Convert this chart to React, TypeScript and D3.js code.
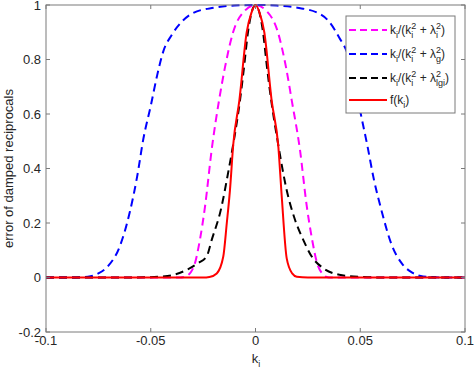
import React from "react";
import * as d3 from "d3";

const xTicks = [-0.1, -0.05, 0, 0.05, 0.1];
const yTicks = [-0.2, 0, 0.2, 0.4, 0.6, 0.8, 1];

// k_i/(k_i^2 + lambda_i^2)  (magenta)
const magK = [-0.1, -0.06, -0.036, -0.034, -0.032, -0.0308, -0.029, -0.0265, -0.0241, -0.0209, -0.0174, -0.0146, -0.0107, -0.005, 0, 0.005, 0.0107, 0.0146, 0.0173, 0.0212, 0.0245, 0.027, 0.0295, 0.0316, 0.034, 0.036, 0.06, 0.1];
const magV = [0, 0, 0, 0.002, 0.01, 0.02, 0.05, 0.14, 0.26, 0.47, 0.65, 0.77, 0.9, 0.98, 1, 0.98, 0.9, 0.77, 0.65, 0.47, 0.26, 0.14, 0.05, 0.017, 0.002, 0, 0, 0];

// k_i/(k_i^2 + lambda_g^2)  (blue)
const blueK = [-0.1, -0.09, -0.08, -0.075, -0.07, -0.065, -0.06, -0.0565, -0.0535, -0.05, -0.047, -0.044, -0.04, -0.035, -0.03, -0.02, -0.01, 0, 0.01, 0.02, 0.03, 0.035, 0.04, 0.044, 0.047, 0.05, 0.0535, 0.0565, 0.06, 0.065, 0.07, 0.075, 0.08, 0.09, 0.1];
const blueV = [0, 0, 0.003, 0.015, 0.045, 0.11, 0.24, 0.37, 0.51, 0.63, 0.74, 0.83, 0.89, 0.94, 0.97, 0.99, 0.998, 1, 0.998, 0.99, 0.97, 0.94, 0.88, 0.82, 0.73, 0.61, 0.48, 0.36, 0.25, 0.12, 0.05, 0.017, 0.004, 0, 0];

// k_i/(k_i^2 + lambda_lgi^2)  (black)
const blackK = [-0.1, -0.06, -0.05, -0.0456, -0.04, -0.0328, -0.0274, -0.0233, -0.0209, -0.0165, -0.0131, -0.0106, -0.0074, -0.0055, -0.0036, 0, 0.0036, 0.0055, 0.0075, 0.0108, 0.0149, 0.0185, 0.0228, 0.027, 0.0322, 0.04, 0.05, 0.06, 0.1];
const blackV = [0, 0, 0.001, 0.003, 0.008, 0.028, 0.053, 0.078, 0.138, 0.25, 0.383, 0.49, 0.65, 0.77, 0.9, 1, 0.9, 0.77, 0.65, 0.49, 0.32, 0.22, 0.138, 0.075, 0.035, 0.01, 0.002, 0, 0];

// f(k_i)  (red)
const redK = [-0.1, -0.03, -0.025, -0.022, -0.0185, -0.0154, -0.0137, -0.0122, -0.0106, -0.0077, -0.0042, -0.002, 0, 0.002, 0.0042, 0.0077, 0.0109, 0.0125, 0.0149, 0.0175, 0.0197, 0.025, 0.03, 0.1];
const redV = [0, 0, 0, 0.002, 0.015, 0.076, 0.2, 0.32, 0.49, 0.65, 0.9, 0.97, 1, 0.97, 0.9, 0.65, 0.48, 0.3, 0.07, 0.015, 0.003, 0, 0, 0];

const legendSubs = ["i", "g", "lgi"];

const W = 474;
const H = 379;
const L = 46, R = 465, T = 5, B = 332;
const font = "'Liberation Sans', Arial, Helvetica, sans-serif";
const axisCol = "#7a7a7a";
const textCol = "#262626";

export default function App() {
  const x = d3.scaleLinear().domain([-0.1, 0.1]).range([L, R]);
  const y = d3.scaleLinear().domain([-0.2, 1]).range([B, T]);
  const line = d3
    .line<[number, number]>()
    .x((d) => x(d[0]))
    .y((d) => y(d[1]))
    .curve(d3.curveMonotoneX);
  const mk = (ks: number[], vs: number[]) => line(ks.map((k, i) => [k, vs[i]] as [number, number])) || "";

  const series = [
    { d: mk(magK, magV), color: "#ff00ff", dash: "8,5" },
    { d: mk(blueK, blueV), color: "#0000ff", dash: "8,5" },
    { d: mk(blackK, blackV), color: "#000000", dash: "8,5" },
    { d: mk(redK, redV), color: "#ff0000", dash: undefined as string | undefined },
  ];

  const lx = 346, ly = 16, lw = 109, lh = 97;
  const rows = [30, 54, 78, 100];
  const fs = 12;
  const sub = 9;
  // approximate glyph widths at sub size (Liberation Sans)
  const wOf = (s: string) =>
    s.split("").reduce((a, c) => a + (c === "i" || c === "l" ? 0.222 : 0.556) * sub, 0);
  const w2 = 0.556 * sub;

  const subSup = (sb: string, key: string) => {
    const ws = wOf(sb);
    const extra = Math.max(0, ws - w2);
    const back = Math.max(0, w2 - ws);
    return [
      <tspan key={key + "a"} fontSize={sub} dy={3.5}>{sb}</tspan>,
      <tspan key={key + "b"} fontSize={sub} dx={-ws} dy={-8.5}>2</tspan>,
      { extra, back },
    ] as const;
  };

  const legendText = (i: number, yy: number) => {
    const tx = 390;
    const base = yy + 4;
    if (i === 3) {
      return (
        <text x={tx} y={base} fontSize={fs} fill={textCol} fontFamily={font}>
          f(k<tspan fontSize={sub} dy={3.5}>i</tspan>
          <tspan dy={-3.5}>)</tspan>
        </text>
      );
    }
    const a = subSup("i", "a");
    const b = subSup(legendSubs[i], "b");
    return (
      <text x={tx} y={base} fontSize={fs} fill={textCol} fontFamily={font} xmlSpace="preserve">
        k<tspan fontSize={sub} dy={3.5}>i</tspan>
        <tspan dy={-3.5}>/(k</tspan>
        {a[0]}
        {a[1]}
        <tspan dy={5} dx={a[2].extra}>{" + \u03bb"}</tspan>
        {b[0]}
        {b[1]}
        <tspan dy={5} dx={b[2].extra}>)</tspan>
      </text>
    );
  };

  return (
    <svg width={W} height={H} style={{ position: "absolute", left: 0, top: 0, background: "#fff" }}>
      <rect x={0} y={0} width={W} height={H} fill="#fff" />
      <defs>
        <clipPath id="plotclip">
          <rect x={L} y={T - 1} width={R - L} height={B - T + 2} />
        </clipPath>
      </defs>
      {/* curves */}
      <g clipPath="url(#plotclip)">
        {series.map((s, i) => (
          <path key={i} d={s.d} fill="none" stroke={s.color} strokeWidth={2} strokeDasharray={s.dash} strokeLinejoin="round" />
        ))}
      </g>
      {/* axes box */}
      <rect x={L} y={T} width={R - L} height={B - T} fill="none" stroke={axisCol} strokeWidth={1} />
      {xTicks.map((t) => (
        <g key={"x" + t}>
          <line x1={x(t)} x2={x(t)} y1={B} y2={B - 4} stroke={axisCol} />
          <line x1={x(t)} x2={x(t)} y1={T} y2={T + 4} stroke={axisCol} />
          <text x={x(t)} y={B + 13} textAnchor="middle" fontSize={13} fill={textCol} fontFamily={font}>
            {String(t)}
          </text>
        </g>
      ))}
      {yTicks.map((t) => (
        <g key={"y" + t}>
          <line x1={L} x2={L + 4} y1={y(t)} y2={y(t)} stroke={axisCol} />
          <line x1={R} x2={R - 4} y1={y(t)} y2={y(t)} stroke={axisCol} />
          <text x={L - 5} y={y(t) + 4.5} textAnchor="end" fontSize={13} fill={textCol} fontFamily={font}>
            {String(Math.round(t * 10) / 10)}
          </text>
        </g>
      ))}
      {/* axis labels */}
      <text x={256} y={363} textAnchor="middle" fontSize={13} fill={textCol} fontFamily={font}>
        k<tspan fontSize={9} dy={4}>i</tspan>
      </text>
      <text
        transform={`translate(13, ${(T + B) / 2}) rotate(-90)`}
        textAnchor="middle"
        fontSize={13}
        fill={textCol}
        fontFamily={font}
      >
        error of damped reciprocals
      </text>
      {/* legend */}
      <rect x={lx} y={ly} width={lw} height={lh} fill="#fff" stroke={axisCol} strokeWidth={1} />
      {series.map((s, i) => (
        <g key={"l" + i}>
          <line x1={349} x2={387} y1={rows[i]} y2={rows[i]} stroke={s.color} strokeWidth={2} strokeDasharray={s.dash ? "7,4" : undefined} />
          {legendText(i, rows[i])}
        </g>
      ))}
    </svg>
  );
}
